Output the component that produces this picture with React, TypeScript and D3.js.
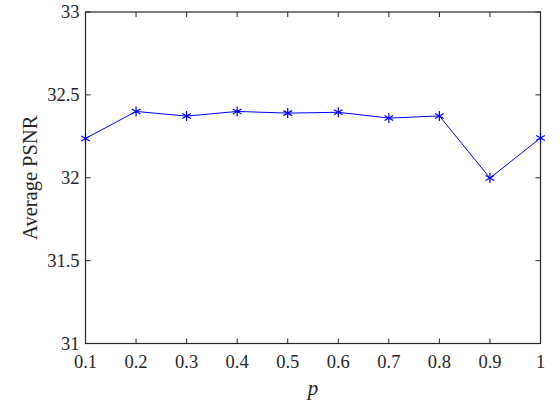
import { useEffect, useRef } from 'react';
import * as d3 from 'd3';

const pValues = [0.1, 0.2, 0.3, 0.4, 0.5, 0.6, 0.7, 0.8, 0.9, 1.0];
const psnrValues = [32.237, 32.4, 32.372, 32.4, 32.39, 32.395, 32.36, 32.373, 31.998, 32.24];
const xTicks = [0.1, 0.2, 0.3, 0.4, 0.5, 0.6, 0.7, 0.8, 0.9, 1];
const yTicks = [31, 31.5, 32, 32.5, 33];

function App() {
  const svgRef = useRef<SVGSVGElement | null>(null);
  const width = 560;
  const height = 406;
  const margin = { top: 12, right: 19.5, bottom: 62.5, left: 85.5 };

  useEffect(() => {
    const svg = d3.select(svgRef.current);
    svg.selectAll('*').remove();

    const xScale = d3
      .scaleLinear()
      .domain([0.1, 1])
      .range([margin.left, width - margin.right]);
    const yScale = d3
      .scaleLinear()
      .domain([31, 33])
      .range([height - margin.bottom, margin.top]);

    const font = 'Liberation Serif';
    const tickLen = 5;
    const x0 = margin.left;
    const x1 = width - margin.right;
    const y0 = height - margin.bottom;
    const y1 = margin.top;

    svg.append('rect').attr('width', width).attr('height', height).attr('fill', '#fff');

    // ticks point inward, on all four sides
    const ticks = svg.append('g').attr('stroke', '#262626').attr('stroke-width', 1);
    xTicks.forEach((t) => {
      const x = xScale(t);
      ticks.append('line').attr('x1', x).attr('x2', x).attr('y1', y0).attr('y2', y0 - tickLen);
      ticks.append('line').attr('x1', x).attr('x2', x).attr('y1', y1).attr('y2', y1 + tickLen);
    });
    yTicks.forEach((t) => {
      const y = yScale(t);
      ticks.append('line').attr('x1', x0).attr('x2', x0 + tickLen).attr('y1', y).attr('y2', y);
      ticks.append('line').attr('x1', x1).attr('x2', x1 - tickLen).attr('y1', y).attr('y2', y);
    });

    svg
      .append('rect')
      .attr('x', x0)
      .attr('y', y1)
      .attr('width', x1 - x0)
      .attr('height', y0 - y1)
      .attr('fill', 'none')
      .attr('stroke', '#262626')
      .attr('stroke-width', 1.2);

    // tick labels
    svg
      .append('g')
      .selectAll('text')
      .data(xTicks)
      .join('text')
      .attr('x', (d) => xScale(d))
      .attr('y', y0 + 24)
      .attr('text-anchor', 'middle')
      .attr('font-family', font)
      .attr('font-size', 18.5)
      .attr('fill', '#262626')
      .text((d) => String(d));

    svg
      .append('g')
      .selectAll('text')
      .data(yTicks)
      .join('text')
      .attr('x', x0 - 6)
      .attr('y', (d) => yScale(d) + 6)
      .attr('text-anchor', 'end')
      .attr('font-family', font)
      .attr('font-size', 18.5)
      .attr('fill', '#262626')
      .text((d) => String(d));

    // axis labels
    svg
      .append('text')
      .attr('x', (x0 + x1) / 2)
      .attr('y', 395)
      .attr('text-anchor', 'middle')
      .attr('font-family', font)
      .attr('font-style', 'italic')
      .attr('font-size', 21)
      .attr('fill', '#262626')
      .text('p');

    svg
      .append('text')
      .attr('transform', `translate(37,${(y0 + y1) / 2}) rotate(-90)`)
      .attr('text-anchor', 'middle')
      .attr('font-family', font)
      .attr('font-size', 20.5)
      .attr('fill', '#262626')
      .text('Average PSNR');

    // data
    const data = pValues.map((p, i) => ({ p, v: psnrValues[i] }));
    const line = d3
      .line<{ p: number; v: number }>()
      .x((d) => xScale(d.p))
      .y((d) => yScale(d.v));

    svg
      .append('path')
      .datum(data)
      .attr('fill', 'none')
      .attr('stroke', '#0000ff')
      .attr('stroke-width', 1)
      .attr('d', line);

    const marker = d3.symbol(d3.symbolAsterisk, 70);
    svg
      .append('g')
      .selectAll('path')
      .data(data)
      .join('path')
      .attr('transform', (d) => `translate(${xScale(d.p)},${yScale(d.v)})`)
      .attr('d', marker)
      .attr('fill', 'none')
      .attr('stroke', '#0000ff')
      .attr('stroke-width', 1.2);
  }, []);

  return (
    <svg
      ref={svgRef}
      width={width}
      height={height}
      style={{ position: 'absolute', left: 0, top: 0 }}
    />
  );
}

export default App;
